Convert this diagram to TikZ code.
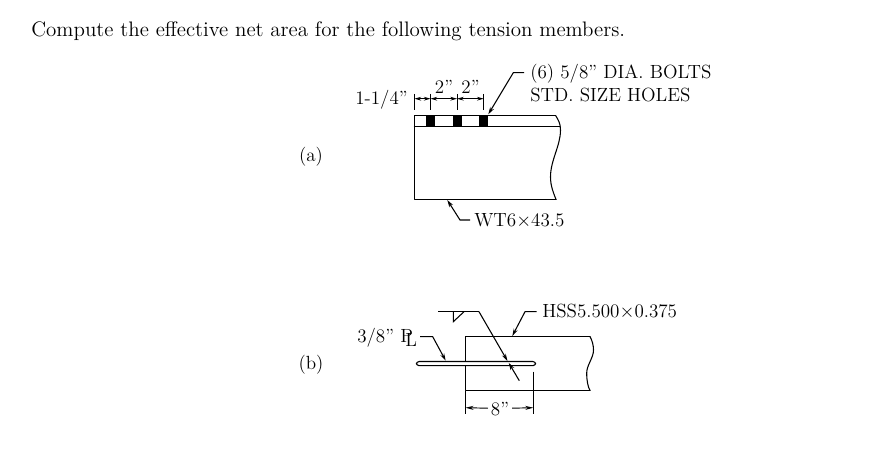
\documentclass[tikz,border=0pt]{standalone}
\usetikzlibrary{arrows.meta}
\tikzset{
  part/.style={line width=0.8pt,line cap=round,line join=round},
  leader/.style={line width=0.8pt,-{Stealth[length=5.5pt,width=3.2pt]}},
  dim/.style={line width=0.7pt,{Stealth[length=5pt,width=2.8pt]}-{Stealth[length=5pt,width=2.8pt]}},
  dimext/.style={line width=0.7pt},
  lbl/.style={inner sep=0pt,font=\fontsize{14.3}{17}\selectfont},
  hole/.style={fill=black,draw=none}
}
\begin{document}
\begin{tikzpicture}[x=0.75pt,y=-0.75pt]
\useasboundingbox (0,0) rectangle (891,470);
\fill[white] (0,0) rectangle (891,470);
\node[inner sep=0pt,anchor=base west,font=\fontsize{12}{14}\selectfont,scale=1.3115] (title) at (31,36.5) {Compute the effective net area for the following tension members.};
\node[lbl,anchor=center] (la) at (311,157) {(a)};
\node[lbl,anchor=center] (lb) at (311,365) {(b)};

% (a)
\coordinate (tl) at (414.5,115.7); \coordinate (tr) at (555.7,115.7);
\coordinate (ml) at (414.5,126.3); \coordinate (mr) at (560,126.3);
\coordinate (bl) at (414.5,199.5); \coordinate (br) at (556,199.5);
\draw[part] (tr) -- (tl) -- (bl) -- (br);
\draw[part] (ml) -- (mr);
\draw[part] (tr) .. controls (558,119.5) and (560.5,123) .. (560.5,130) .. controls (560.5,146) and (550.5,160) .. (550.5,177) .. controls (550.5,186) and (553.5,193) .. (br);
\fill[hole] (426,116) rectangle (435.3,126);
\fill[hole] (452.7,116) rectangle (462,126);
\fill[hole] (479.3,116) rectangle (488.3,126);
\foreach \n/\x in {e1/414.5,e2/430.5,e3/457,e4/483.7}{
  \coordinate (\n t) at (\x,94); \coordinate (\n b) at (\x,110);
  \coordinate (\n m) at (\x,98.7);
  \draw[dimext] (\n t) -- (\n b);
}
\draw[dim] (e1m) -- (e2m);
\draw[dim] (e2m) -- (e3m);
\draw[dim] (e3m) -- (e4m);
\node[lbl,anchor=center] (d1) at (444,87) {2"};
\node[lbl,anchor=center] (d2) at (470.5,87) {2"};
\node[lbl,anchor=base east] (d0) at (408,105) {1-1/4"};
\coordinate (b1) at (524,72.7); \coordinate (b2) at (513.3,72.7); \coordinate (b3) at (488.3,114.3);
\draw[leader] (b1) -- (b2) -- (b3);
\node[lbl,anchor=base west] (bolt1) at (530,78.5) {(6) 5/8" DIA. BOLTS};
\node[lbl,anchor=base west] (bolt2) at (530,101.5) {STD. SIZE HOLES};
\coordinate (w1) at (470,220); \coordinate (w2) at (460,220); \coordinate (w3) at (447.3,200);
\draw[leader] (w1) -- (w2) -- (w3);
\node[lbl,anchor=base west] (wt) at (474,226) {WT6$\times$43.5};

% (b)
\coordinate (htl) at (465.5,336.7); \coordinate (htr) at (590,336.7);
\coordinate (hbl) at (465.5,390.5); \coordinate (hbr) at (590,390.5);
\draw[part] (htr) -- (htl) -- (hbl) -- (hbr);
\draw[part] (htr) .. controls (592,340) and (593.5,345) .. (593.5,350) .. controls (593.5,358) and (586.7,365) .. (586.7,373) .. controls (586.7,381) and (588,387) .. (hbr);
\draw[part,fill=white,rounded corners=2pt] (416.5,361.5) rectangle (535.5,365.7);
\coordinate (r0) at (438.3,311.7); \coordinate (r1) at (479,311.7); \coordinate (r2) at (507.5,361); \coordinate (r3) at (519.3,380.7);
\coordinate (r4) at (508.7,362.8);
\draw[line width=0.8pt] (r0) -- (r1);
\draw[leader] (r1) -- (r2);
\draw[leader] (r3) -- (r4);
\draw[line width=0.8pt] (453.3,311.7) -- (453.3,321.7) -- (464,311.7);
\coordinate (h1) at (536.5,311.7); \coordinate (h2) at (525,311.7); \coordinate (h3) at (512.3,336);
\draw[leader] (h1) -- (h2) -- (h3);
\node[lbl,anchor=base west] (hss) at (542,317.5) {HSS5.500$\times$0.375};
\coordinate (p1) at (420,336.7); \coordinate (p2) at (432.7,336.7); \coordinate (p3) at (445.7,360.7);
\draw[leader] (p1) -- (p2) -- (p3);
\node[lbl,anchor=base west] (pl) at (357,342.5) {3/8" P\kern-0.4em\raisebox{-3pt}{L}};
\coordinate (x1) at (465.5,414); \coordinate (x1m) at (465.5,407.7);
\coordinate (x2a) at (533.3,371.7); \coordinate (x2) at (533.3,414); \coordinate (x2m) at (533.3,407.7);
\draw[dimext] (hbl) -- (x1);
\draw[dimext] (x2a) -- (x2);
\node[lbl,anchor=center,fill=white,inner sep=2pt,text depth=0pt] (eight) at (500,408.5) {8"};
\draw[line width=0.7pt,-{Stealth[length=6pt,width=3pt]}] (eight) -- (x1m);
\draw[line width=0.7pt,-{Stealth[length=6pt,width=3pt]}] (eight) -- (x2m);
\end{tikzpicture}
\end{document}
